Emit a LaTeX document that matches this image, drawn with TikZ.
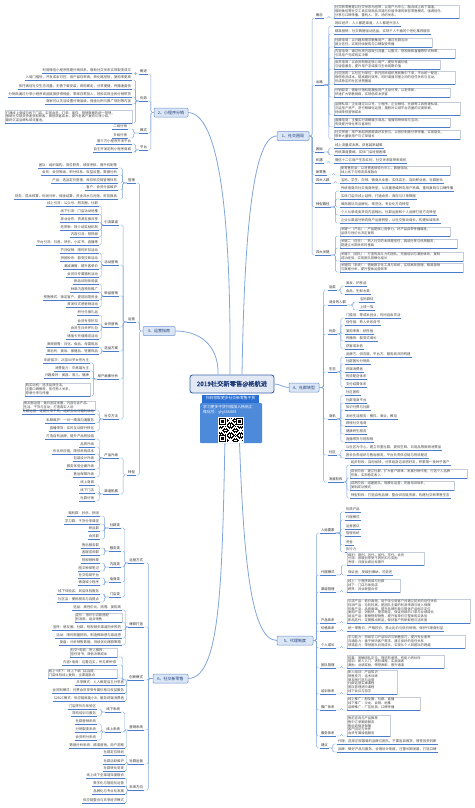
\documentclass[tikz,border=0pt]{standalone}
\usepackage{fontspec}
\usepackage{xcolor}
\usetikzlibrary{calc}
\newfontfamily\cjk{Noto Sans CJK SC}
\newfontfamily\cjkbold{Noto Sans CJK SC}[FakeBold=1.6]
\XeTeXlinebreaklocale "zh"
\XeTeXlinebreakskip=0pt plus 1pt
\definecolor{cLine}{RGB}{128,166,220}
\definecolor{cUline}{RGB}{74,124,202}
\definecolor{cText}{RGB}{72,72,72}
\definecolor{cSub}{RGB}{45,45,45}
\definecolor{cBox}{RGB}{196,204,216}
\definecolor{cBranch}{RGB}{218,229,245}
\definecolor{cBranchBd}{RGB}{112,148,208}
\definecolor{cRoot}{RGB}{226,233,245}
\definecolor{cRootBd}{RGB}{62,102,172}
\definecolor{cRootTxt}{RGB}{32,62,122}
\definecolor{cBanner}{RGB}{42,112,212}
\definecolor{cInfo}{RGB}{78,138,218}
\newcommand{\fLeaf}{\cjk\fontsize{3.4}{4}\selectfont}
\newcommand{\fPara}{\cjk\fontsize{3.3}{3.9}\selectfont}
\newcommand{\fBranch}{\cjk\fontsize{4}{5}\selectfont}
\newcommand{\fRoot}{\cjkbold\fontsize{6.3}{7}\selectfont}
\newcommand{\fInfo}{\cjk\fontsize{3.8}{4.4}\selectfont}

\begin{document}
\begin{tikzpicture}[x=1pt, y=-1pt]

% ------------------- 定义样式 -------------------
\tikzstyle{conn} = [draw=cLine, line width=0.4pt, rounded corners=1.5pt]
\tikzstyle{trunk} = [draw=cLine, line width=0.8pt]
\tikzstyle{fork} = [to path={-| ($(\tikztostart)!.5!(\tikztotarget)$) |- (\tikztotarget)}]
\tikzstyle{uline} = [draw=cUline, line width=0.5pt]
\tikzstyle{leaf} = [font=\fLeaf, text=cText, inner xsep=0.8pt, inner ysep=0.7pt, append after command={(\tikzlastnode.south west) edge[uline] (\tikzlastnode.south east)}]
\tikzstyle{sub} = [leaf, text=cSub]
\tikzstyle{para} = [font=\fPara, text=cText, align=left, draw=cBox, line width=0.25pt, inner xsep=1pt, inner ysep=0.8pt, append after command={(\tikzlastnode.south west) edge[uline] (\tikzlastnode.south east)}]
\tikzstyle{branchbox} = [draw=cBranchBd, fill=cBranch, line width=0.5pt, rounded corners=1pt, font=\fBranch, text=cRootTxt, minimum height=9pt, inner sep=1pt]
\tikzstyle{rootbox} = [draw=cRootBd, fill=cRoot, line width=0.9pt, rounded corners=2.5pt, font=\fRoot, text=cRootTxt, minimum width=84pt, minimum height=18pt]
\tikzstyle{bannerbox} = [fill=cBanner, font=\fInfo, text=white, minimum width=57pt, minimum height=8pt, inner sep=0pt]
\tikzstyle{infobox} = [fill=cInfo, rounded corners=1pt, minimum width=62pt, minimum height=40pt]
\tikzstyle{infotext} = [font=\fInfo, text=white, inner sep=0pt, anchor=west]

\fill[white] (0,0) rectangle (474,808);
\useasboundingbox (0,0) rectangle (474,808);

% ------------------- 中心主题与主分支 -------------------
\node[rootbox] (root) at (232,384) {2019社交新零售@杨航进};
\node[branchbox, minimum width=32pt] (bSocial) at (293,136) {1、社交困局};
\node[branchbox, minimum width=34pt] (bMini) at (171,112.5) {2、小程序分销};
\node[branchbox, minimum width=32pt] (bOps) at (159,331) {3、运营指南};
\node[branchbox, minimum width=30pt] (bGroup) at (304,387.5) {4、社群转型};
\node[branchbox, minimum width=36pt] (bAgent) at (295,640.5) {5、代理制度};
\node[branchbox, minimum width=35pt] (bRetail) at (170.5,678.5) {6、社交新零售};

\draw[trunk] ([xshift=10pt]root.north) .. controls (244,260) and (250,136) .. (bSocial.west);
\draw[trunk] (bMini.east) .. controls (224,114) and (231,250) .. ([xshift=-2pt]root.north);
\draw[trunk] (bOps.east) .. controls (206,331) and (219,352) .. ([xshift=-14pt]root.north);
\draw[trunk] (root.east) to[out=0, in=180] (bGroup.west);
\draw[trunk] ([xshift=6pt]root.south) .. controls (242,540) and (248,640) .. (bAgent.west);
\draw[trunk] ([xshift=-6pt]root.south) .. controls (222,560) and (224,678) .. (bRetail.east);

% ------------------- 横幅与二维码 -------------------
\node[bannerbox] (banner) at (230.5,398.5) {扫码领取更多社交新零售干货};
\node[infobox] (info) at (231,423) {};
\node[infotext] (infoA) at (203,407) {学习更多干货扫描加入杨航汇};
\node[infotext] (infoB) at (203,412) {微信号：yhj666888};
\fill[white] (218,417) rectangle (244,443);
\foreach \i in {0,...,23} \foreach \j in {0,...,23} {
  \pgfmathtruncatemacro\q{mod(\i*\i*7+\j*\j*3+\i*\j*5+\i*11+\j*13,10)}
  \ifnum\q<5 \fill (219+\i,418+\j) rectangle ++(1,1); \fi
}
\foreach \px/\py in {219/418,236/418,219/435} {
  \fill[white] (\px-0.5,\py-0.5) rectangle ++(8,8);
  \fill (\px,\py) rectangle ++(7,7);
  \fill[white] (\px+1,\py+1) rectangle ++(5,5);
  \fill (\px+2,\py+2) rectangle ++(3,3);
}

% ------------------- 2、小程序分销 -------------------
\node[sub, anchor=south east] (sOverview) at (148,74) {概述};
\node[sub, anchor=south east] (sAdv) at (148,101) {优势};
\node[sub, anchor=south east] (sMode) at (148,133) {模式};
\node[sub, anchor=south east] (sPlat) at (148,150) {平台};
\foreach \n in {sOverview,sAdv,sMode,sPlat} \draw[conn] (bMini.west) to[fork] (\n.south east);

\node[leaf, anchor=south east] (ov1) at (132,73) {利用微信小程序搭建分销体系，借助社交关系实现裂变成交};
\draw[conn] (sOverview.south west) to[fork] (ov1.south east);

\foreach \y/\t [count=\i] in {80/{入局门槛低，开发成本可控，用户留存率高，转化路径短，复购率更高},
  89/{依托微信社交生态流量，无需下载安装，即用即走，分享便捷，传播速度快},
  97/{分销商通过分享小程序商品链接获得佣金，零库存零投入，轻松实现全民分销带货},
  104/{商家可以灵活设置分销层级、佣金比例与推广规则等内容}} {
  \node[leaf, anchor=south east] (adv\i) at (132,\y) {\t};
  \draw[conn] (sAdv.south west) to[fork] (adv\i.south east);
}
\node[para, text width=125pt, anchor=south east] (adv5) at (132,123) {打通线上商城与线下门店，实现会员、订单、库存、营销数据的统一管理，\\借助社交裂变快速获取新客，降低获客成本，提升老客户复购与转介绍，\\最终沉淀品牌私域流量池。};
\draw[conn] (sAdv.south west) to[fork] (adv5.south east);

\foreach \y/\t [count=\i] in {129/{二级分销}, 138/{多级分销}} {
  \node[leaf, anchor=south east] (md\i) at (128,\y) {\t};
  \draw[conn] (sMode.south west) to[fork] (md\i.south east);
}
\foreach \y/\t [count=\i] in {144/{第三方小程序开发平台}, 152/{自主开发定制小程序商城}} {
  \node[leaf, anchor=south east] (pf\i) at (132,\y) {\t};
  \draw[conn] (sPlat.south west) to[fork] (pf\i.south east);
}

% ------------------- 3、运营指南 -------------------
\node[sub, anchor=south east] (sMgmt) at (136,183) {管理};
\node[sub, anchor=south east] (sRun) at (136,322) {运营};
\node[sub, anchor=south east] (sTrans) at (136,475) {转型};
\foreach \n in {sMgmt,sRun,sTrans} \draw[conn] (bOps.west) to[fork] (\n.south east);

\foreach \y/\t [count=\i] in {168/{团队：组织架构、岗位职责、绩效考核、晋升机制等},
  175/{会员：会员等级、积分体系、权益设置、数据分析},
  183/{产品：选品定价管理、库存供应链管理体系},
  190/{客户：会员分层维护},
  199/{财务：成本核算、利润分析、佣金结算、资金流水与对账、财务报表}} {
  \node[leaf, anchor=south east] (mg\i) at (118,\y) {\t};
  \draw[conn] (sMgmt.south west) to[fork] (mg\i.south east);
}

\foreach \n/\y/\t in {gTraffic/225/引流渠道, gEvent/265/活动营销, gNew/296/新品营销, gMember/327/会员营销, gPick/351/选品方案, gUser/379/用户画像分析, gSocial/419/社交方法} {
  \node[sub, anchor=south east] (\n) at (119,\y) {\t};
  \draw[conn] (sRun.south west) to[fork] (\n.south east);
}
\foreach \y/\t [count=\i] in {206/{线上引流：公众号、朋友圈、社群}, 214/{线下引流：门店活动地推}, 222/{异业合作：资源互换共享}, 230/{老带新：转介绍奖励机制}, 237/{内容引流：短视频}, 245/{平台引流：抖音、快手、小红书、直播等}} {
  \node[leaf, anchor=south east] (tf\i) at (99,\y) {\t};
  \draw[conn] (gTraffic.south west) to[fork] (tf\i.south east);
}
\foreach \y/\t [count=\i] in {253/{节日促销：限时折扣活动}, 261/{拼团秒杀：裂变拉新活动}, 269/{满减满赠：提升客单价}, 277/{会员日专属福利活动}} {
  \node[leaf, anchor=south east] (ev\i) at (99,\y) {\t};
  \draw[conn] (gEvent.south west) to[fork] (ev\i.south east);
}
\foreach \y/\t [count=\i] in {284/{新品试用体验装}, 292/{种草内容预热推广}, 300/{预售模式：锁定客户，提前回笼资金}, 307/{首发仪式感营销活动}} {
  \node[leaf, anchor=south east] (nw\i) at (99,\y) {\t};
  \draw[conn] (gNew.south west) to[fork] (nw\i.south east);
}
\foreach \y/\t [count=\i] in {315/{积分兑换礼品}, 324/{会员专享折扣}, 331/{会员生日关怀礼包}, 339/{储值卡充值赠送活动}} {
  \node[leaf, anchor=south east] (mb\i) at (99,\y) {\t};
  \draw[conn] (gMember.south west) to[fork] (mb\i.south east);
}
\foreach \y/\t [count=\i] in {347/{高频刚需：日化、食品、母婴用品}, 354/{高毛利：美妆、保健品、轻奢饰品}} {
  \node[leaf, anchor=south east] (pk\i) at (99,\y) {\t};
  \draw[conn] (gPick.south west) to[fork] (pk\i.south east);
}
\foreach \y/\t [count=\i] in {363/{年龄层次：25至40岁女性为主}, 371/{消费能力：中高端为主}, 378/{兴趣爱好：美容、育儿、健康}} {
  \node[leaf, anchor=south east] (us\i) at (90,\y) {\t};
  \draw[conn] (gUser.south west) to[fork] (us\i.south east);
}
\node[para, text width=63pt, anchor=south east] (us4) at (90,396) {购买动机：追求品质生活，\\注重口碑推荐，信任熟人关系，\\愿意分享与传播};
\draw[conn] (gUser.south west) to[fork] (us4.south east);
\node[para, text width=70pt, anchor=south east] (so1) at (95,410) {朋友圈运营：每日固定发圈，内容包含产品、\\生活、干货与互动，打造真实人设};
\draw[conn] (gSocial.south west) to[fork] (so1.south east);
\foreach \y/\t [count=\i from 2] in {414/{社群运营：定期分享干货，组织互动与福利活动}, 423/{私聊维护：一对一精准沟通服务}, 431/{直播带货：实时互动提升转化}} {
  \node[leaf, anchor=south east] (so\i) at (95,\y) {\t};
  \draw[conn] (gSocial.south west) to[fork] (so\i.south east);
}

\node[sub, anchor=south east] (gUpgrade) at (119,458) {产品升级};
\node[sub, anchor=south east] (gChannel) at (119,494) {渠道拓展};
\foreach \n in {gUpgrade,gChannel} \draw[conn] (sTrans.south west) to[fork] (\n.south east);
\foreach \y/\t [count=\i] in {439/{打造自有品牌，提升产品附加值}, 447/{品质升级}, 454/{优化供应链，降低采购成本}, 461/{包装设计升级}, 469/{服务体验全面升级}, 477/{售后保障升级}} {
  \node[leaf, anchor=south east] (up\i) at (95,\y) {\t};
  \draw[conn] (gUpgrade.south west) to[fork] (up\i.south east);
}
\foreach \y/\t [count=\i] in {485/{线上商城}, 493/{线下门店}, 501/{社群分销}} {
  \node[leaf, anchor=south east] (ch\i) at (95,\y) {\t};
  \draw[conn] (gChannel.south west) to[fork] (ch\i.south east);
}

% ------------------- 6、社交新零售 -------------------
\foreach \n/\y/\t in {sMethod/563/运营方式, sHot/627/爆款打造, sInnov/680/创新模式, sSys/730/营销系统, sComm/764/社群运营, sFuture/790/未来方向} {
  \node[sub, anchor=south east] (\n) at (144,\y) {\t};
  \draw[conn] (bRetail.west) to[fork] (\n.south east);
}
\foreach \n/\y/\t in {mA/528/社群类, mB/551/服务类, mC/567/内容类, mD/582/电商类, mE/597/门店类} {
  \node[sub, anchor=south east] (\n) at (121,\y) {\t};
  \draw[conn] (sMethod.south west) to[fork] (\n.south east);
}
\foreach \p/\y/\t [count=\i] in {mA/516/{福利群：秒杀、拼团}, mA/524/{学习群：干货分享课堂}, mA/531/{粉丝群}, mA/539/{会员群},
  mB/548/{售后服务群}, mB/555/{客服咨询群}, mC/563/{短视频种草}, mC/571/{图文种草笔记},
  mD/578/{社交电商平台}, mD/585/{微商城小程序}, mE/594/{线下体验店：到店体验服务}, mE/602/{社区店：便民服务与自提点}} {
  \node[leaf, anchor=south east] (mt\i) at (100,\y) {\t};
  \draw[conn] (\p.south west) to[fork] (mt\i.south east);
}

\node[leaf, anchor=south east] (ht1) at (122,610) {选品：高性价比、刚需、复购高};
\node[para, text width=45pt, anchor=south east] (ht2) at (122,622) {定价：低价引流款搭配\\利润款，组合销售};
\foreach \y/\t [count=\i from 3] in {630/{宣传：朋友圈、社群、短视频多渠道同步预热}, 638/{活动：限时限量抢购，制造稀缺感与紧迫感}, 645/{复盘：分析销售数据，持续优化爆款策略}} {
  \node[leaf, anchor=south east] (ht\i) at (122,\y) {\t};
}
\foreach \i in {1,...,5} \draw[conn] (sHot.south west) to[fork] (ht\i.south east);

\node[para, text width=45pt, anchor=south east] (in1) at (117,657) {社交+电商：熟人推荐，\\信任背书，降低决策成本};
\node[leaf, anchor=south east] (in2) at (117,665) {内容+电商：边看边买，所见即所得};
\node[para, text width=67pt, anchor=south east] (in3) at (117,678) {线上+线下：线上下单门店自提，\\门店体验线上复购，全渠道融合};
\foreach \y/\t [count=\i from 4] in {685/{共享模式：人人都是店主分享者}, 693/{会员制模式：付费会员享受专属价格与权益服务}, 701/{S2B2C模式：供应链赋能小B，服务终端消费者}} {
  \node[leaf, anchor=south east] (in\i) at (125,\y) {\t};
}
\foreach \i in {1,...,6} \draw[conn] (sInnov.south west) to[fork] (in\i.south east);

\node[sub, anchor=south east] (yOff) at (121,712) {线下系统};
\node[sub, anchor=south east] (yOn) at (121,732) {线上系统};
\node[leaf, anchor=south east] (yData) at (125,748) {数据分析系统：精准营销、用户洞察};
\foreach \n in {yOff,yOn} \draw[conn] (sSys.south west) to[fork] (\n.south east);
\draw[conn] (sSys.south west) to[fork] (yData.south east);
\foreach \p/\y/\t [count=\i] in {yOff/709/{门店陈列与体验区}, yOff/716/{导购培训与服务}, yOn/724/{社群营销系统}, yOn/732/{分销裂变系统}, yOn/740/{会员积分系统}} {
  \node[leaf, anchor=south east] (ys\i) at (97,\y) {\t};
  \draw[conn] (\p.south west) to[fork] (ys\i.south east);
}
\foreach \y/\t [count=\i] in {755/{社群定位规划}, 764/{社群活跃维护}, 771/{社群转化变现}} {
  \node[leaf, anchor=south east] (cm\i) at (125,\y) {\t};
  \draw[conn] (sComm.south west) to[fork] (cm\i.south east);
}
\foreach \y/\t [count=\i] in {778/{线上线下全渠道深度融合}, 786/{数字化与智能化运营}, 794/{品牌化与专业化发展}, 803/{供应链整合与共享经济模式}} {
  \node[leaf, anchor=south east] (ft\i) at (125,\y) {\t};
  \draw[conn] (sFuture.south west) to[fork] (ft\i.south east);
}

% ------------------- 1、社交困局 -------------------
\foreach \n/\y/\t in {rConcept/18/概念, rWay/85/出路, rPlight/152/困局, rChance/163/机遇, rNew/175/新零售, rCrowd/183/四大人群, rPath/207/转型路径, rKey/255/四大关键} {
  \node[sub, anchor=south west] (\n) at (315,\y) {\t};
  \draw[conn] (bSocial.east) to[fork] (\n.south west);
}
\node[para, text width=123pt, anchor=south west] (cp1) at (334,18) {社交新零售是以社交关系为纽带，以用户为中心，融合线上线下渠道，\\借助微信等社交工具实现商品流通与价值传递的新型零售模式，强调信任、\\分享与口碑传播，重构人、货、场的关系。};
\draw[conn] (rConcept.south east) to[fork] (cp1.south west);

\node[leaf, anchor=south west] (wy1) at (334,26) {网红经济：人人都是渠道，人人都是代言人};
\node[leaf, anchor=south west] (wy2) at (334,34) {精准营销：社交数据驱动选品，实现千人千面的个性化推荐服务};
\foreach \y/\w/\t [count=\i from 3] in {47/96/{社群电商：以兴趣和需求聚集用户，通过社群互动\\建立信任，实现持续复购与口碑裂变传播},
  58/119/{内容电商：通过优质内容吸引流量，以图文、短视频和直播等形式种草，\\引导用户完成购买决策},
  69/104/{会员电商：以会员制锁定核心用户，提供专属价格\\与增值服务，提升用户忠诚度与生命周期价值},
  84/119/{社区团购：以社区为单位，依托团长组织居民集中下单，平台统一配送，\\降低物流成本，提高履约效率，同时增强邻里之间的信任关系与互动，\\形成稳定的社区消费圈层},
  97/114/{分销裂变：借助分销机制激励用户主动分享，以老带新，\\快速扩大销售网络，实现低成本获客},
  115/124/{品牌私域：企业通过公众号、小程序、企业微信、社群等工具搭建私域，\\沉淀用户资产，进行精细化运营，摆脱对公域平台流量的过度依赖，\\持续降低营销成本},
  127/114/{直播电商：主播实时讲解展示商品，增强购物体验与互动，\\有效提升转化率与客单价},
  139/124/{社交拼团：用户发起拼团邀请好友参与，以低价刺激分享传播，实现裂变，\\带来大量新用户与订单增长}} {
  \node[para, text width=\w pt, anchor=south west] (wy\i) at (334,\y) {\t};
}
\foreach \i in {1,...,10} \draw[conn] (rWay.south east) to[fork] (wy\i.south west);

\foreach \y/\t [count=\i] in {148/{线上流量成本高，获客越来越难}, 155/{传统渠道萎缩，实体门店经营困难}} {
  \node[leaf, anchor=south west] (pl\i) at (334,\y) {\t};
  \draw[conn] (rPlight.south east) to[fork] (pl\i.south west);
}
\node[leaf, anchor=south west] (cc1) at (334,163) {微信十二亿用户生态红利，社交关系链带来商机};
\draw[conn] (rChance.south east) to[fork] (cc1.south west);
\node[para, text width=108pt, anchor=south west] (nr1) at (340,175) {新零售机会：以消费者体验为中心，数据驱动，\\线上线下与物流深度融合};
\draw[conn] (rNew.south east) to[fork] (nr1.south west);
\node[leaf, anchor=south west] (cw1) at (340,183) {宝妈、学生、白领、微商从业者、实体店主、自由职业者、社群团长};
\draw[conn] (rCrowd.south east) to[fork] (cw1.south west);
\foreach \y/\t [count=\i] in {191/{传统电商向社交电商转型，从流量思维转向用户思维，重视复购与口碑传播},
  199/{实体门店向线上延伸，打通会员、库存与订单数据},
  207/{微商团队向品牌化、规范化、专业化方向转型},
  215/{个人从单纯卖货向内容输出、社群运营和个人品牌打造方向转型},
  223/{企业从渠道分销向用户运营转型，以社交驱动增长，构建私域体系}} {
  \node[leaf, anchor=south west] (ph\i) at (340,\y) {\t};
  \draw[conn] (rPath.south east) to[fork] (ph\i.south west);
}
\foreach \y/\w/\t [count=\i] in {236/108/{关键一（产品）：产品是核心竞争力，好产品自带传播属性，\\品质与性价比决定复购},
  248/115/{关键二（信任）：熟人社交的本质是信任，真诚分享与优质服务，\\是建立长期关系的基础},
  261/121/{关键三（团队）：打造有战斗力的团队，完善培训与激励体系，复制\\成功经验，实现团队规模化增长},
  272/121/{关键四（系统）：借助数字化工具与系统，实现高效管理、精准营销\\与数据分析，提升整体运营效率}} {
  \node[para, text width=\w pt, anchor=south west] (ky\i) at (340,\y) {\t};
  \draw[conn] (rKey.south east) to[fork] (ky\i.south west);
}

% ------------------- 4、社群转型 -------------------
\foreach \n/\y/\t in {qCat/290/品类, qFit/305/适合的人群, qAdv/334/优势, qEco/372/生态, qBiz/419/商机, qComm/455/社区, qStage/482/发展阶段} {
  \node[sub, anchor=south west] (\n) at (328,\y) {\t};
  \draw[conn] (bGroup.east) to[fork] (\n.south west);
}
\foreach \p/\y/\t [count=\i] in {qCat/286/{美妆、护肤品}, qCat/294/{食品、生鲜水果},
  qAdv/318/{门槛低：零成本创业，时间自由灵活}, qAdv/325/{信任强：熟人关系背书}, qAdv/334/{复购率高：粘性强}, qAdv/341/{传播快：裂变式增长}, qAdv/349/{获客成本低},
  qEco/357/{品牌方、供应链、平台方、服务商共同构建}, qEco/364/{社群团长分销商}, qEco/372/{终端消费者}, qEco/379/{物流配送体系}, qEco/387/{支付结算体系},
  qBiz/395/{社区团购}, qBiz/403/{社群电商平台}, qBiz/410/{知识付费与社群}, qBiz/419/{本地生活服务：餐饮、美业、教培}, qBiz/426/{跨境社交电商}, qBiz/434/{健康养生服务}, qBiz/442/{直播带货与短视频},
  qComm/450/{以社区为中心，建立邻里社群，提供生鲜、日用品等高频消费品}, qComm/458/{团长负责组织与售后服务，平台负责供应链与物流配送}} {
  \node[leaf, anchor=south west] (gq\i) at (345,\y) {\t};
  \draw[conn] (\p.south east) to[fork] (gq\i.south west);
}
\foreach \y/\t [count=\i] in {302/{宝妈群体}, 310/{上班一族}} {
  \node[leaf, anchor=south west] (fi\i) at (359,\y) {\t};
  \draw[conn] (qFit.south east) to[fork] (fi\i.south west);
}
\node[leaf, anchor=south west] (st1) at (350,465) {起步阶段：自用省钱，分享给身边亲朋好友，积累第一批种子客户};
\node[para, text width=115pt, anchor=south west] (st2) at (350,478) {成长阶段：建立社群，扩大客户群体，发展分销代理，打造个人品牌\\形象，实现稳定收入};
\node[para, text width=102pt, anchor=south west] (st3) at (350,490) {成熟阶段：组建团队，规模化运营，完善培训体系，\\复制成功模式};
\node[leaf, anchor=south west] (st4) at (350,498) {转型阶段：打造自有品牌，整合供应链资源，构建社交新零售生态};
\foreach \i in {1,...,4} \draw[conn] (qStage.south east) to[fork] (st\i.south west);

% ------------------- 5、代理制度 -------------------
\foreach \n/\y/\t in {pEntry/533/入局要素, pMode/575/代理模式, pChannel/592/渠道管理, pProd/623/产品体系, pPrice/631/价格体系, pGrow/648/个人成长, pTeam/668/团队管理, pTrain/694/培训体系, pPromo/710/推广体系, pServe/736/服务体系, pTip/748/建议} {
  \node[sub, anchor=south west] (\n) at (320,\y) {\t};
  \draw[conn] (bAgent.east) to[fork] (\n.south west);
}
\foreach \y/\t [count=\i] in {512/{优质产品}, 520/{代理模式}, 529/{运营团队}, 536/{管理系统}, 545/{资金}, 552/{执行力}} {
  \node[leaf, anchor=south west] (en\i) at (345,\y) {\t};
  \draw[conn] (pEntry.south east) to[fork] (en\i.south west);
}
\node[para, text width=75pt, anchor=south west] (pm1) at (347,565) {级别：联创、总代、省代、市代、会员\\分润：按级别享受不同折扣与奖励\\考核：月度业绩达标晋升};
\node[leaf, anchor=south west] (pm2) at (347,575) {保证金：按级别缴纳，可退还};
\foreach \i in {1,2} \draw[conn] (pMode.south east) to[fork] (pm\i.south west);
\node[para, text width=51pt, anchor=south west] (pc1) at (347,592) {线上：小程序商城与社群\\线下：门店与体验店\\跨界：异业联盟合作};
\draw[conn] (pChannel.south east) to[fork] (pc1.south west);
\node[para, text width=121pt, anchor=south west] (pd1) at (347,623) {引流产品：低价高频，用于吸引新客户并建立初步的信任关系\\利润产品：毛利较高，是团队主要的利润来源与收入保障\\形象产品：品质高端，提升品牌形象与整体产品档次定位\\复购产品：消耗快、需求稳定，保证持续的订单与业绩增长\\组合产品：套餐搭配销售，提升客单价与整体购买体验\\新品迭代：定期推出新品，保持客户的新鲜感与活跃度};
\draw[conn] (pProd.south east) to[fork] (pd1.south west);
\node[leaf, anchor=south west] (pr1) at (347,631) {统一零售价，严格控价，禁止乱价与低价倾销，保护代理商利益};
\draw[conn] (pPrice.south east) to[fork] (pr1.south west);
\node[para, text width=116pt, anchor=south west] (gw1) at (347,648) {学习能力：持续学习产品知识与销售技巧，提升专业素养\\沟通能力：善于倾听客户需求，建立良好的信任关系\\领导能力：带领团队共同成长，实现从个人到团队的跨越};
\draw[conn] (pGrow.south east) to[fork] (gw1.south west);
\node[para, text width=95pt, anchor=south west] (tm1) at (347,668) {招募：明确团队定位，筛选有意愿、有能力的伙伴\\培训：新人入门、进阶课程、实战演练\\激励：业绩奖励、荣誉表彰、晋升通道};
\draw[conn] (pTeam.south east) to[fork] (tm1.south west);
\node[para, text width=48pt, anchor=south west] (tr1) at (347,694) {新人培训：产品知识\\销售技巧：话术训练\\朋友圈打造与运营\\社群运营实操课程\\团队管理进阶课程\\线下会议与游学};
\draw[conn] (pTrain.south east) to[fork] (tr1.south west);
\node[para, text width=71pt, anchor=south west] (po1) at (347,710) {线上推广：朋友圈、社群、直播\\线下推广：沙龙、会销、地推\\品牌推广：广告投放、口碑传播};
\draw[conn] (pPromo.south east) to[fork] (po1.south west);
\node[para, text width=41pt, anchor=south west] (sv1) at (347,736) {售前咨询与产品推荐\\售中订单跟踪服务\\售后退换货保障\\客户回访与关怀\\会员专属增值服务};
\draw[conn] (pServe.south east) to[fork] (sv1.south west);
\foreach \y/\t [count=\i] in {744/{代理：选择正规靠谱的品牌与团队，不要盲目囤货，理性投资判断}, 752/{品牌：做好产品与服务，合理设计制度，注重长期发展，打造口碑}} {
  \node[leaf, anchor=south west] (tp\i) at (337,\y) {\t};
  \draw[conn] (pTip.south east) to[fork] (tp\i.south west);
}

\end{tikzpicture}
\end{document}
